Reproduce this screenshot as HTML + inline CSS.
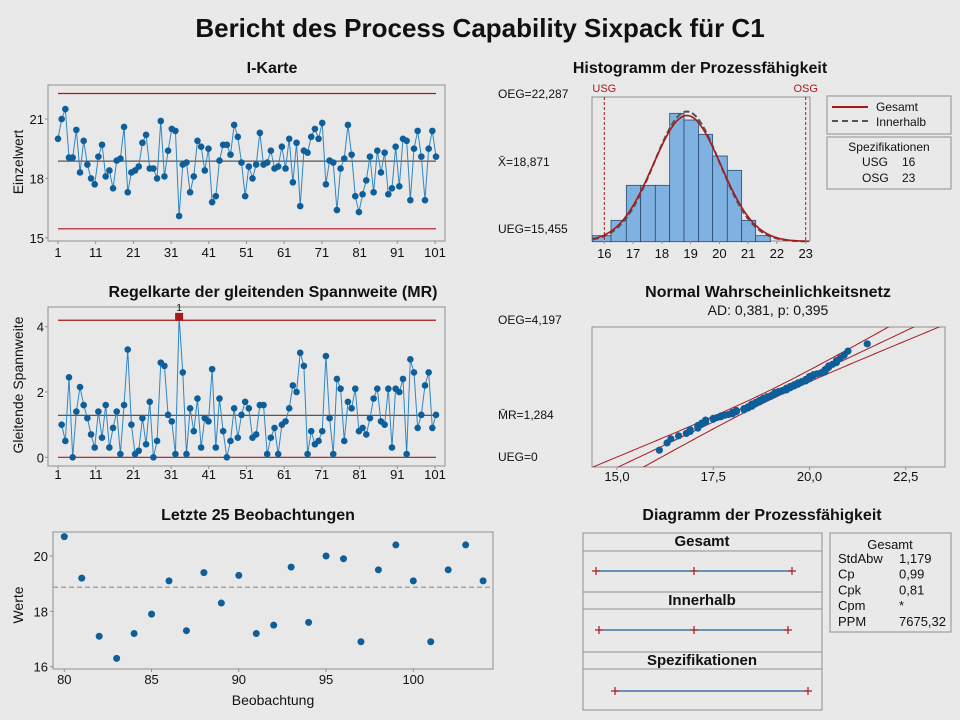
<!DOCTYPE html>
<html><head><meta charset="utf-8">
<style>
html,body{margin:0;padding:0;background:#e9e9e9;}
svg{display:block;font-family:"Liberation Sans",sans-serif;}
</style></head>
<body>
<svg id="s" width="960" height="720" xmlns="http://www.w3.org/2000/svg"></svg>
<script>
const D=[20.0,21.0,21.5,19.05,19.05,20.45,18.3,19.9,18.7,18.0,17.7,19.1,19.7,18.1,18.4,17.5,18.9,19.0,20.6,17.3,18.3,18.4,18.6,19.8,20.2,18.5,18.5,18.0,20.9,18.1,19.4,20.5,20.4,16.1,18.7,18.8,17.3,18.1,19.9,19.6,18.4,19.5,16.8,17.1,18.9,19.7,19.7,19.2,20.7,20.1,18.8,17.1,18.6,18.0,18.7,20.3,18.7,18.8,19.4,18.5,18.6,19.6,18.5,20.0,17.8,19.8,16.6,19.4,19.3,20.1,20.5,20.0,20.8,17.7,18.9,18.8,16.4,18.5,19.0,20.7,19.2,17.1,16.3,17.2,17.9,19.1,17.3,19.4,18.3,19.3,17.2,17.5,19.6,17.6,20.0,19.9,16.9,19.5,20.4,19.1,16.9,19.5,20.4,19.1];
const RED="#a8191c",BL="#0e5f99",LN="#2f86c4",GR="#8f8f8f",PB="#e8e8e8";
let h='';
function t(x,y,s,o){o=o||{};h+=`<text x="${x}" y="${y}" font-size="${o.fs||12}" text-anchor="${o.a||'middle'}" fill="${o.c||'#111'}" ${o.b?'font-weight="bold"':''} ${o.r?`transform="rotate(-90 ${x} ${y})"`:''}>${s}</text>`;}
function L(x1,y1,x2,y2,c,w,d){h+=`<line x1="${x1}" y1="${y1}" x2="${x2}" y2="${y2}" stroke="${c}" stroke-width="${w||1}" ${d?`stroke-dasharray="${d}"`:''}/>`;}
function R(x,y,w,hh,f,s){h+=`<rect x="${x}" y="${y}" width="${w}" height="${hh}" fill="${f}" stroke="${s||GR}" stroke-width="1"/>`;}
function C(x,y,r,c){h+=`<circle cx="${x}" cy="${y}" r="${r}" fill="${c}"/>`;}
t(480,37,"Bericht des Process Capability Sixpack für C1",{fs:26,b:1});
t(272,73,"I-Karte",{fs:16,b:1});
t(700,73,"Histogramm der Prozessfähigkeit",{fs:16,b:1});
t(273,297,"Regelkarte der gleitenden Spannweite (MR)",{fs:16,b:1});
t(768,297,"Normal Wahrscheinlichkeitsnetz",{fs:16,b:1});
t(768,315,"AD: 0,381, p: 0,395",{fs:14});
t(258,520,"Letzte 25 Beobachtungen",{fs:16,b:1});
t(762,520,"Diagramm der Prozessfähigkeit",{fs:16,b:1});
const xi=i=>58+(i-1)*3.67;
const xt=k=>58+(k-1)*3.77;
R(48,85,397,156,PB);
const yI=v=>119+(21-v)*19.8;
L(58,yI(22.287),436,yI(22.287),RED,1.2);
L(58,yI(15.455),436,yI(15.455),RED,1.2);
L(58,yI(18.871),436,yI(18.871),"#555",1.2);
h+=`<polyline fill="none" stroke="${LN}" stroke-width="1" points="${D.map((v,i)=>xi(i+1)+','+yI(v)).join(' ')}"/>`;
D.forEach((v,i)=>C(xi(i+1),yI(v),3.3,BL));
[21,18,15].forEach(v=>{t(44,yI(v)+5,v,{a:'end',fs:13});L(45,yI(v),48,yI(v),GR);});
for(let k=1;k<=101;k+=10){t(xt(k),257,k,{fs:13});L(xt(k),241,xt(k),244,GR);}
t(498,98,"OEG=22,287",{a:'start'});t(498,166,"X̄=18,871",{a:'start'});t(498,233,"UEG=15,455",{a:'start'});
t(23,162,"Einzelwert",{fs:14,r:1});
R(48,307,397,159,PB);
const yM=v=>457.3-v*32.65;
L(58,yM(4.197),436,yM(4.197),RED,1.2);L(58,yM(0),436,yM(0),RED,1.2);L(58,yM(1.284),436,yM(1.284),"#555",1.2);
const MR=[];for(let i=1;i<D.length;i++)MR.push(Math.abs(D[i]-D[i-1]));
h+=`<polyline fill="none" stroke="${LN}" stroke-width="1" points="${MR.map((v,i)=>xi(i+2)+','+yM(v)).join(' ')}"/>`;
MR.forEach((v,i)=>{if(v>4.197){h+=`<rect x="${xi(i+2)-4}" y="${yM(v)-4}" width="8" height="8" fill="${RED}"/>`;t(xi(i+2),yM(v)-6,"1",{fs:10});}else C(xi(i+2),yM(v),3.3,BL);});
[4,2,0].forEach(v=>{t(44,yM(v)+5,v,{a:'end',fs:13});L(45,yM(v),48,yM(v),GR);});
for(let k=1;k<=101;k+=10){t(xt(k),479,k,{fs:13});L(xt(k),466,xt(k),469,GR);}
t(498,324,"OEG=4,197",{a:'start'});t(498,419,"M̄R=1,284",{a:'start'});t(498,461,"UEG=0",{a:'start'});
t(23,385,"Gleitende Spannweite",{fs:14,r:1});
R(53,532,440,137,PB);
const xL=v=>64.3+(v-80)*17.45,yL=v=>556+(20-v)*27.67;
L(53,yL(18.871),493,yL(18.871),"#999",1.2,"5,3");
for(let i=80;i<=104;i++)C(xL(i),yL(D[i-1]),3.5,BL);
[20,18,16].forEach(v=>{t(48,yL(v)+5,v,{a:'end',fs:13});L(50,yL(v),53,yL(v),GR);});
[80,85,90,95,100].forEach(v=>{t(xL(v),684,v,{fs:13});L(xL(v),669,xL(v),672,GR);});
t(273,705,"Beobachtung",{fs:14});t(23,605,"Werte",{fs:14,r:1});
R(592,97,218,144,PB);
const bars=[[22,482],[78,436],[124,331],[167,331],[211,331],[254,115],[297,135],[341,178],[383,243],[427,286],[470,436],[512,482],[556,500]];
for(let i=0;i<12;i++){const x1=585+bars[i][0]/3,x2=585+bars[i+1][0]/3,y=75+bars[i][1]/3;h+=`<rect x="${x1}" y="${y}" width="${x2-x1}" height="${241.7-y}" fill="#7fb2e0" stroke="#2c4a6e" stroke-width="0.8"/>`;}
const xh=v=>604.3+(v-16)*28.77;
L(xh(16),97,xh(16),241,RED,1,"3,2");L(xh(23),97,xh(23),241,RED,1,"3,2");
t(xh(16),92,"USG",{fs:11,c:RED});t(xh(23),92,"OSG",{fs:11,c:RED});
function curve(s,pk,c,w,d){let p=[];for(let x=593;x<=809;x+=2){const z=(x-686.9)/(s*28.77);p.push(x+','+(241.5-pk*Math.exp(-z*z/2)));}h+=`<polyline fill="none" stroke="${c}" stroke-width="${w}" ${d?`stroke-dasharray="${d}"`:''} points="${p.join(' ')}"/>`;}
curve(1.138,130,"#555",2,"6,3");curve(1.179,126,RED,1.6);
for(let v=16;v<=23;v++){t(xh(v),258,v,{fs:13});L(xh(v),241,xh(v),244,GR);}
R(827,96,124,38,"#e9e9e9");L(832,107,868,107,RED,2);L(832,121,868,121,"#555",2,"6,4");
t(876,111,"Gesamt",{a:'start'});t(876,126,"Innerhalb",{a:'start'});
R(827,137,124,52,"#e9e9e9");t(889,151,"Spezifikationen");t(862,166,"USG",{a:'start'});t(902,166,"16",{a:'start'});t(862,182,"OSG",{a:'start'});t(902,182,"23",{a:'start'});
R(592,327,353,140,PB);
h+=`<clipPath id="pc"><rect x="592" y="327" width="353" height="140"/></clipPath><g clip-path="url(#pc)">`;
const xp=v=>617+(v-15)*38.5,yp=z=>397-z*21.5;
function inv(p){const a=[-39.696830,220.946098,-275.928510,138.357751,-30.664798,2.506628],b=[-54.476098,161.585836,-155.698979,66.801311,-13.280681],c=[-0.007784894,-0.32239645,-2.4007582,-2.5497325,4.3746641,2.938164],d=[0.007784695,0.32246712,2.445134,3.7544087];let q,r;if(p<0.02425){q=Math.sqrt(-2*Math.log(p));return(((((c[0]*q+c[1])*q+c[2])*q+c[3])*q+c[4])*q+c[5])/((((d[0]*q+d[1])*q+d[2])*q+d[3])*q+1);}if(p>1-0.02425){q=Math.sqrt(-2*Math.log(1-p));return-(((((c[0]*q+c[1])*q+c[2])*q+c[3])*q+c[4])*q+c[5])/((((d[0]*q+d[1])*q+d[2])*q+d[3])*q+1);}q=p-0.5;r=q*q;return(((((a[0]*r+a[1])*r+a[2])*r+a[3])*r+a[4])*r+a[5])*q/(((((b[0]*r+b[1])*r+b[2])*r+b[3])*r+b[4])*r+1);}
const n=D.length,m=18.871,sd=1.179;
for(const k of[-1,0,1]){let p=[];for(let z=-3.6;z<=3.6;z+=0.1){const se=sd*Math.sqrt(1/n+z*z/(2*(n-1)));p.push(xp(m+sd*z+k*1.96*se*1.15)+','+yp(z));}h+=`<polyline fill="none" stroke="${RED}" stroke-width="1" points="${p.join(' ')}"/>`;}
[...D].sort((a,b)=>a-b).forEach((v,i)=>C(xp(v),yp(inv((i+0.7)/(n+0.4))),3.6,BL));
h+='</g>';
[15,17.5,20,22.5].forEach(v=>{t(xp(v),481,v.toFixed(1).replace('.',','),{fs:13});L(xp(v),467,xp(v),470,GR);});
R(583,533,239,177,"#e9e9e9");
[551,592,609,652,669].forEach(y=>L(583,y,822,y,GR));
t(702,546,"Gesamt",{fs:15,b:1});t(702,605,"Innerhalb",{fs:15,b:1});t(702,665,"Spezifikationen",{fs:15,b:1});
function cl(y,xs){L(xs[0],y,xs[xs.length-1],y,"#1b5f9a",1.2);xs.forEach(x=>{L(x-4,y,x+4,y,RED,1.2);L(x,y-4,x,y+4,RED,1.2);});}
cl(571,[596,694,792]);cl(630,[599,694,788]);cl(691,[615,808]);
R(830,533,121,99,"#e9e9e9");
t(890,549,"Gesamt",{fs:13});
[["StdAbw","1,179"],["Cp","0,99"],["Cpk","0,81"],["Cpm","*"],["PPM","7675,32"]].forEach((r,i)=>{t(838,563+i*15.7,r[0],{a:'start',fs:13});t(899,563+i*15.7,r[1],{a:'start',fs:13});});
document.getElementById('s').innerHTML=h;
</script>
</body></html>
